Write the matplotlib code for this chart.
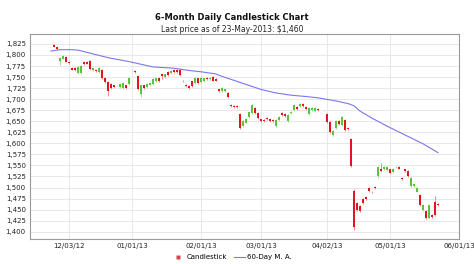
import numpy as np
import pandas as pd
import matplotlib
matplotlib.use("Agg")
import matplotlib.pyplot as plt
from matplotlib.lines import Line2D

# ---------------- data ----------------
dates = pd.bdate_range("2012-11-26", "2013-05-23")  # weekday axis
nan = np.nan
opens = [1822, 1817, 1786, 1792, 1796,
         1785, 1771, 1770, 1760, 1759,
         1785, 1784, 1786, 1766, 1767,
         1762, 1767, 1749, 1738, 1734,
         1731, 1731, 1728, 1726, 1731,
         1735, nan, 1764, 1752, 1711,
         1731, 1728, 1731, 1734, 1740,
         1749, 1756, 1751, 1761, 1759,
         1767, 1766, 1767, 1742, 1733,
         1729, 1740, 1737, 1747, 1738,
         1741, 1748, 1745, 1750, 1745,
         1722, 1718, 1718, 1715, 1687,
         1685, 1684, 1666, 1640, 1647,
         1659, 1669, 1681, 1668, 1654,
         1652, 1658, 1656, 1653, 1640,
         1653, 1668, 1666, 1651, 1669,
         1676, 1683, 1685, 1690, 1682,
         1666, 1675, 1674, 1678, nan,
         1675, 1667, 1648, 1619, 1635,
         1650, 1641, 1652, 1634, 1609,
         1493, 1465, 1458, 1474, 1479,
         1500, 1491, 1502, 1525, 1542,
         1541, 1540, 1541, 1536, 1546,
         1547, 1522, 1541, 1538, 1503,
         1503, 1491, 1483, 1450, 1447,
         1430, 1437, 1467, 1462]
highs = [1824, 1819, 1796, 1799, 1798,
         1787, 1773, 1772, 1774, 1777,
         1787, 1786, 1788, 1772, 1769,
         1772, 1769, 1751, 1740, 1736,
         1733, 1732, 1736, 1739, 1733,
         1751, nan, 1766, 1754, 1733,
         1733, 1736, 1739, 1748, 1749,
         1751, 1758, 1758, 1763, 1766,
         1769, 1768, 1770, 1744, 1735,
         1731, 1742, 1751, 1749, 1751,
         1749, 1750, 1750, 1752, 1747,
         1724, 1727, 1724, 1717, 1689,
         1687, 1686, 1668, 1653, 1657,
         1672, 1689, 1683, 1670, 1656,
         1654, 1660, 1658, 1655, 1654,
         1661, 1670, 1668, 1666, 1673,
         1688, 1685, 1691, 1692, 1684,
         1682, 1682, 1683, 1680, nan,
         1676, 1669, 1650, 1630, 1653,
         1652, 1661, 1654, 1636, 1611,
         1496, 1467, 1460, 1476, 1481,
         1502, 1493, 1504, 1549, 1556,
         1549, 1549, 1543, 1545, 1549,
         1549, 1524, 1543, 1540, 1523,
         1509, 1502, 1485, 1462, 1449,
         1463, 1439, 1481, 1464]
lows = [1817, 1812, 1777, 1790, 1783,
        1779, 1765, 1764, 1758, 1756,
        1778, 1779, 1766, 1764, 1762,
        1760, 1745, 1736, 1708, 1724,
        1726, 1730, 1726, 1724, 1724,
        1733, nan, 1759, 1720, 1706,
        1723, 1726, 1729, 1732, 1738,
        1738, 1746, 1749, 1753, 1757,
        1759, 1760, 1752, 1738, 1728,
        1724, 1728, 1735, 1735, 1736,
        1739, 1743, 1743, 1740, 1740,
        1716, 1716, 1716, 1703, 1682,
        1681, 1680, 1633, 1638, 1645,
        1657, 1667, 1666, 1656, 1648,
        1648, 1652, 1648, 1648, 1638,
        1651, 1662, 1659, 1649, 1667,
        1674, 1675, 1683, 1682, 1675,
        1664, 1673, 1672, 1673, nan,
        1674, 1646, 1624, 1617, 1633,
        1641, 1639, 1628, 1630, 1547,
        1404, 1447, 1445, 1462, 1472,
        1491, 1488, 1496, 1522, 1535,
        1539, 1538, 1530, 1534, 1544,
        1541, 1517, 1535, 1524, 1501,
        1501, 1489, 1458, 1448, 1428,
        1428, 1431, 1435, 1458]
closes = [1819, 1814, 1794, 1797, 1785,
          1781, 1767, 1766, 1772, 1775,
          1780, 1780, 1768, 1770, 1764,
          1770, 1747, 1738, 1719, 1726,
          1728, 1731, 1734, 1737, 1726,
          1749, nan, 1761, 1722, 1731,
          1725, 1734, 1737, 1746, 1747,
          1740, 1752, 1756, 1755, 1764,
          1761, 1762, 1754, 1740, 1730,
          1726, 1730, 1749, 1737, 1749,
          1747, 1745, 1748, 1742, 1742,
          1718, 1725, 1722, 1705, 1684,
          1683, 1682, 1635, 1651, 1655,
          1670, 1687, 1668, 1658, 1650,
          1650, 1654, 1650, 1650, 1652,
          1659, 1664, 1661, 1664, 1671,
          1686, 1677, 1689, 1684, 1677,
          1680, 1680, 1681, 1675, nan,
          1675, 1648, 1626, 1628, 1651,
          1643, 1659, 1630, 1632, 1549,
          1410, 1449, 1447, 1464, 1474,
          1493, 1490, 1498, 1547, 1537,
          1547, 1547, 1532, 1543, 1547,
          1543, 1519, 1537, 1526, 1521,
          1507, 1500, 1460, 1460, 1430,
          1461, 1433, 1437, 1460]

ma_dates = ["2012-11-23", "2012-11-28", "2012-12-04", "2012-12-06", "2012-12-20",
            "2012-12-31", "2013-01-10", "2013-01-21", "2013-01-28", "2013-02-01",
            "2013-02-08", "2013-02-11", "2013-02-20", "2013-03-01", "2013-03-08",
            "2013-03-15", "2013-03-22", "2013-03-28", "2013-04-05", "2013-04-11",
            "2013-04-15", "2013-04-17", "2013-04-23", "2013-04-30", "2013-05-08",
            "2013-05-16", "2013-05-23"]
ma_values = [1809, 1812, 1812, 1811, 1794,
             1785, 1773, 1770, 1765, 1762,
             1757, 1754, 1738, 1722, 1714,
             1709, 1706, 1703, 1696, 1690,
             1685, 1673, 1657, 1639, 1619,
             1599, 1579]

tick_dates = ["2012-12-03", "2013-01-01", "2013-02-01", "2013-03-01",
              "2013-04-02", "2013-05-01", "2013-06-01"]
tick_labels = ["12/03/12", "01/01/13", "02/01/13", "03/01/13",
               "04/02/13", "05/01/13", "06/01/13"]
y_ticks = list(range(1400, 1826, 25))

# ---------------- plot ----------------
origin = np.datetime64("2012-12-03")
day_str = dates.strftime("%Y-%m-%d").tolist()
x = np.busday_count(origin, np.array(day_str, dtype="datetime64[D]"))
xm = np.busday_count(origin, np.array(ma_dates, dtype="datetime64[D]"))
xt = np.busday_count(origin, np.array(tick_dates, dtype="datetime64[D]"))

RED = "#e3141c"
GREEN = "#5cc43c"
GRAY = "#a0a0a0"
WICK_RED = "#f08a8e"
WICK_GREEN = "#a8dc98"

fig = plt.figure(figsize=(4.74, 2.64), dpi=100)
ax = fig.add_axes([30 / 474, 1 - 239 / 264, 429 / 474, 205 / 264])

o = np.array(opens, float); h = np.array(highs, float)
l = np.array(lows, float); c = np.array(closes, float)
for xi, oi, hi, li, ci in zip(x, o, h, l, c):
    if np.isnan(oi):
        continue
    if ci > oi:
        col, wcol = GREEN, WICK_GREEN
    elif ci < oi:
        col, wcol = RED, WICK_RED
    else:
        col, wcol = GRAY, "#c8c8c8"
    ax.vlines(xi, li, hi, color=wcol, lw=0.7, zorder=2)
    lo_b, hi_b = min(oi, ci), max(oi, ci)
    ax.bar(xi, max(hi_b - lo_b, 0.8), bottom=lo_b, width=0.7, color=col,
           edgecolor="none", zorder=3)

ax.plot(xm, ma_values, color="#7878ee", lw=0.8, zorder=4)

ax.set_xlim(-13, 130)
ax.set_ylim(1383.5, 1847.5)
ax.set_xticks(xt)
ax.set_xticklabels(tick_labels)
ax.set_yticks(y_ticks)
ax.set_yticklabels([f"{v:,}" for v in y_ticks])
ax.tick_params(axis="both", length=0, labelsize=5, colors="#222222", pad=3)
ax.grid(True, color="#e4e4e4", lw=0.6)
ax.set_axisbelow(True)
for s in ax.spines.values():
    s.set_color("#9a9a9a")
    s.set_linewidth(0.8)

fig.text(0.49, 0.933, "6-Month Daily Candlestick Chart", ha="center", va="center",
         fontsize=6, fontweight="bold", color="#111111")
fig.text(0.49, 0.888, "Last price as of 23-May-2013: $1,460", ha="center",
         va="center", fontsize=5.5, color="#222222")

handles = [Line2D([], [], marker="s", color="none", markerfacecolor="#d8424a",
                  markeredgecolor="none", markersize=3.5),
           Line2D([], [], color="#7878ee", lw=0.8)]
fig.legend(handles, ["Candlestick", "60-Day M. A."], loc="center",
           bbox_to_anchor=(0.49, 0.025), ncol=2, frameon=False, fontsize=5,
           handlelength=1.6, handletextpad=0.4, columnspacing=1.0)

fig.savefig("out.png", dpi=100)
